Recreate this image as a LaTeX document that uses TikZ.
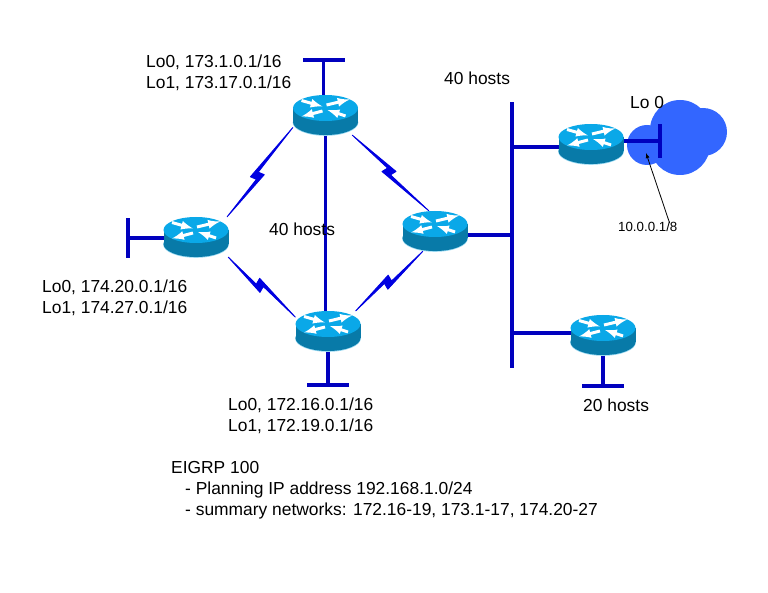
\documentclass[tikz,border=0pt]{standalone}
\usepackage{fontspec}
\setmainfont{Liberation Sans}
\usetikzlibrary{calc}

\definecolor{lanblue}{RGB}{0,0,190}
\definecolor{serblue}{RGB}{0,0,225}
\definecolor{cloudblue}{RGB}{51,102,255}
\definecolor{rtop}{RGB}{10,168,232}
\definecolor{rside}{RGB}{8,122,168}
\definecolor{rrim}{RGB}{150,215,240}

\tikzset{
  router/.style={rectangle,minimum width=65pt,minimum height=40pt,inner sep=0pt},
  hbar/.style={rectangle,fill=lanblue,minimum width=42pt,minimum height=3.4pt,inner sep=0pt},
  vbar/.style={rectangle,fill=lanblue,minimum width=3.4pt,minimum height=#1,inner sep=0pt},
  lan/.style={draw=lanblue,line width=3.2pt},
  serial/.style 2 args={fill=serblue,draw=serblue,line width=.9pt,line join=round,to path={
    -- ($(\tikztostart)!#2!(\tikztotarget)!7pt!#1:(\tikztotarget)$)
    -- ($(\tikztostart)!#2!(\tikztotarget)!3.7pt!-.5*#1:(\tikztotarget)$)
    -- (\tikztotarget)
    -- ($(\tikztostart)!#2!(\tikztotarget)!-7pt!#1:(\tikztotarget)$)
    -- ($(\tikztostart)!#2!(\tikztotarget)!-3.7pt!-.5*#1:(\tikztotarget)$)
    -- cycle}},
  txt/.style={font=\fontsize{17.4}{21}\selectfont,anchor=west,inner sep=0pt,align=left},
  small/.style={font=\fontsize{13.3}{16}\selectfont,anchor=west,inner sep=0pt},
  wing/.style={draw=white,line width=3pt,-latex},
  pics/routerico/.style={code={
    \fill[rrim] (0,7.6) ellipse [x radius=32.8pt,y radius=13.2pt];
    \fill[rside] (0,7) ellipse [x radius=32.5pt,y radius=13pt];
    \fill[rside] (-32.5,-7) rectangle (32.5,7);
    \fill[rtop] (0,-7) ellipse [x radius=32.5pt,y radius=13pt];
    \draw[wing] (-24,-14.5) -- (-3,-8.5);
    \draw[wing] (20,1) -- (2,-5);
    \draw[wing] (1,-10) -- (24,-15.5);
    \draw[wing] (-3,-4) -- (-24,1.5);
  }}
}

\begin{document}
\begin{tikzpicture}[x=1pt,y=-1pt]
\useasboundingbox (0,0) rectangle (768,593);

\foreach \cx/\cy/\cr in {647/145/20,680/130/30,703/132/24,680/145/30}
  \fill[cloudblue] (\cx,\cy) circle [radius=\cr pt];

\node[router](North) at (325.5,115){};
\node[router](West) at (196,237){};
\node[router](East) at (435,231){};
\node[router](South) at (328,331){};
\node[router](Isp) at (591,144){};
\node[router](Lan) at (603,335){};

\node[hbar](NorthT) at (323.5,60){};
\node[vbar=40pt](WestT) at (128,238){};
\node[hbar](SouthT) at (328,385){};
\node[hbar](LanT) at (603,386){};
\node[vbar=34pt](LoT) at (660,141){};
\node[vbar=266pt](Bus) at (512,235){};

\coordinate (BusIsp) at (512,147);
\coordinate (BusEast) at (512,235);
\coordinate (BusLan) at (512,333);
\coordinate (LoIp) at (646,153);

\path
(NorthT) edge[lan] (NorthT|-North)
(WestT) edge[lan] (WestT-|West)
(SouthT) edge[lan] (South)
(LanT) edge[lan] (Lan)
(LoT) edge[lan] (LoT-|Isp)
(North) edge[lan] (North|-South)
(BusIsp) edge[lan] (BusIsp-|Isp)
(BusEast) edge[lan] (BusEast-|East)
(BusLan) edge[lan] (BusLan-|Lan);

\path
(North.-37) edge[serial={45}{.48}] (East.107)
(North.201.7) edge[serial={-45}{.54}] (West.33)
(East.239.7) edge[serial={47}{.52}] (South.36.9)
(West.-32.4) edge[serial={-47}{.47}] (South.157);

\foreach \r in {North,West,East,South,Isp,Lan}
  \pic at (\r) {routerico};

\node[txt](northlbl) at (146,72.5){Lo0, 173.1.0.1/16\\Lo1, 173.17.0.1/16};
\node[txt](westlbl) at (42,297.5){Lo0, 174.20.0.1/16\\Lo1, 174.27.0.1/16};
\node[txt](southlbl) at (228,415.5){Lo0, 172.16.0.1/16\\Lo1, 172.19.0.1/16};
\node[txt](hostsA) at (444,78){40 hosts};
\node[txt](hostsB) at (269,229){40 hosts};
\node[txt](hostsC) at (583,405){20 hosts};
\node[txt](lozero) at (630,103){Lo 0};
\node[txt](eigrp) at (171,490.5){EIGRP 100\\\hspace*{14pt}- Planning IP address 192.168.1.0/24\\\hspace*{14pt}- summary networks: 172.16-19, 173.1-17, 174.20-27};
\node[small](addr) at (618,227){10.0.0.1/8};

\draw[-latex,line width=.8pt] ($(addr.north east)+(-8,1)$) -- (LoIp);
\end{tikzpicture}
\end{document}
